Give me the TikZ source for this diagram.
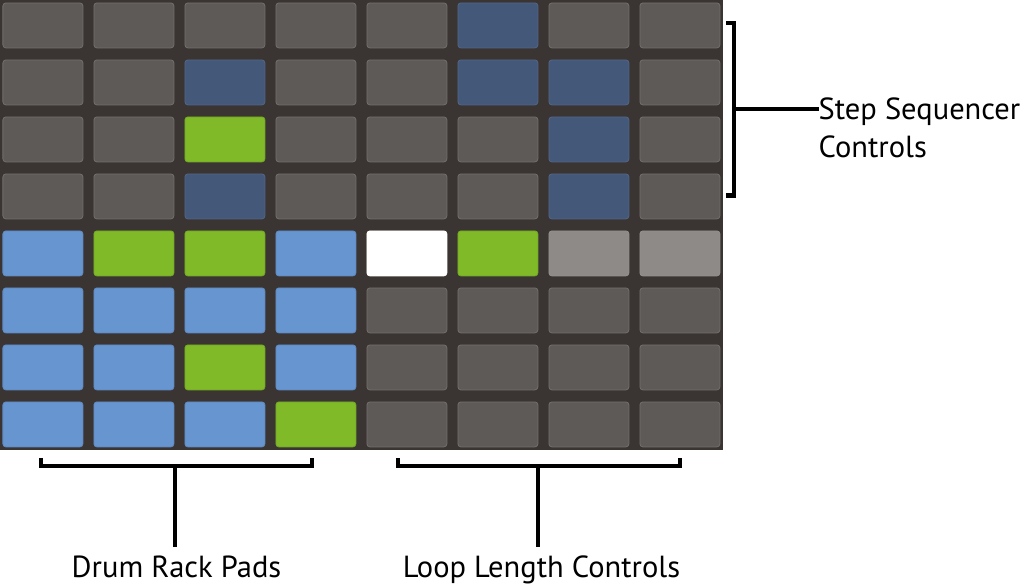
\documentclass[tikz,border=0pt]{standalone}
\usepackage{fontspec}
\setmainfont{PT Sans}
\usetikzlibrary{matrix}

\definecolor{bggray}{HTML}{3A3532}
\definecolor{offgray}{HTML}{5E5A57}
\definecolor{dimblue}{HTML}{44587A}
\definecolor{padgreen}{HTML}{80BA28}
\definecolor{padblue}{HTML}{6695D0}
\definecolor{litgray}{HTML}{8E8A88}

\tikzset{
pad/.style={rectangle, rounded corners=3pt, minimum width=80pt,
  minimum height=45pt, inner sep=0pt, line width=0.8pt},
off/.style={pad, fill=offgray, draw=offgray!88!white},
db/.style={pad, fill=dimblue, draw=dimblue!92!white},
gr/.style={pad, fill=padgreen, draw=padgreen!90!black},
lb/.style={pad, fill=padblue, draw=padblue!92!black},
wh/.style={pad, fill=white, draw=white},
lg/.style={pad, fill=litgray, draw=litgray!95!white},
bracket/.style={line width=4.3pt},
lbl/.style={font=\fontsize{30.5}{38}\selectfont}
}

\begin{document}
\begin{tikzpicture}[x=1pt,y=-1pt]
\useasboundingbox (0,0) rectangle (1024,587);
\matrix (grid) [matrix of nodes, anchor=north west, inner sep=2.5pt, outer sep=0pt,
fill=bggray, column sep={91pt,between origins}, row sep={57pt,between origins}] at (0,0)
{
|[off]|{} & |[off]|{} & |[off]|{} & |[off]|{} & |[off]|{} & |[db]|{}  & |[off]|{} & |[off]|{} \\
|[off]|{} & |[off]|{} & |[db]|{}  & |[off]|{} & |[off]|{} & |[db]|{}  & |[db]|{}  & |[off]|{} \\
|[off]|{} & |[off]|{} & |[gr]|{}  & |[off]|{} & |[off]|{} & |[off]|{} & |[db]|{}  & |[off]|{} \\
|[off]|{} & |[off]|{} & |[db]|{}  & |[off]|{} & |[off]|{} & |[off]|{} & |[db]|{}  & |[off]|{} \\
|[lb]|{}  & |[gr]|{}  & |[gr]|{}  & |[lb]|{}  & |[wh]|{}  & |[gr]|{}  & |[lg]|{}  & |[lg]|{}  \\
|[lb]|{}  & |[lb]|{}  & |[lb]|{}  & |[lb]|{}  & |[off]|{} & |[off]|{} & |[off]|{} & |[off]|{} \\
|[lb]|{}  & |[lb]|{}  & |[gr]|{}  & |[lb]|{}  & |[off]|{} & |[off]|{} & |[off]|{} & |[off]|{} \\
|[lb]|{}  & |[lb]|{}  & |[lb]|{}  & |[gr]|{}  & |[off]|{} & |[off]|{} & |[off]|{} & |[off]|{} \\
};

% step sequencer bracket
\coordinate (seq-t) at (734,23);
\coordinate (seq-b) at (734,195.5);
\coordinate (seq-m) at (734,109.2);
\draw[bracket] (seq-t) ++(-8,0) -- (seq-t) -- (seq-b) -- ++(-8,0);
\node (seq) [lbl, align=left, anchor=west, inner sep=0pt] at (818.5,128) {Step Sequencer\\Controls};
\draw[bracket] (seq-m) -- (seq-m -| seq.west);

% drum rack bracket
\coordinate (drum-l) at (41,465.8);
\coordinate (drum-r) at (312,465.8);
\coordinate (drum-m) at (175,465.8);
\draw[bracket] (drum-l) ++(0,-7.5) -- (drum-l) -- (drum-r) -- ++(0,-7.5);
\node (drum) [lbl, anchor=base, inner sep=8pt] at (176.5,577) {Drum Rack Pads};
\draw[bracket] (drum-m) -- (drum-m |- drum.north);

% loop length bracket
\coordinate (loop-l) at (398,465.8);
\coordinate (loop-r) at (679.7,465.8);
\coordinate (loop-m) at (538.3,465.8);
\draw[bracket] (loop-l) ++(0,-7.5) -- (loop-l) -- (loop-r) -- ++(0,-7.5);
\node (loop) [lbl, anchor=base, inner sep=8pt] at (541.5,577) {Loop Length Controls};
\draw[bracket] (loop-m) -- (loop-m |- loop.north);
\end{tikzpicture}
\end{document}
